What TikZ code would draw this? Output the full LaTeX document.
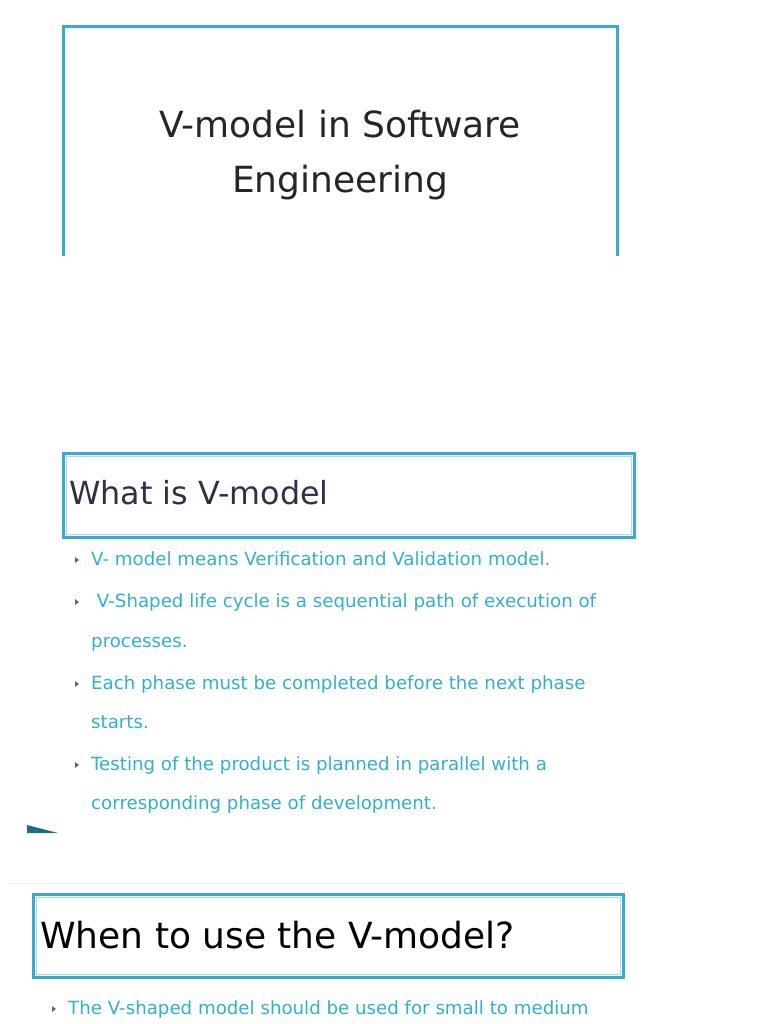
\documentclass[tikz,border=0pt]{standalone}
\usepackage{fontspec}
\setmainfont{DejaVu Sans}
\definecolor{bord}{HTML}{3AAAD0}
\definecolor{btxt}{HTML}{2FB0D2}
\definecolor{ttl}{HTML}{30304A}
\definecolor{tri}{HTML}{1A6E8A}
\begin{document}
\begin{tikzpicture}[x=1pt,y=-1pt,
  bul/.style={anchor=base west,text=btxt,font=\fontsize{18.2}{20}\selectfont,inner sep=0}]
\useasboundingbox (0,0) rectangle (768,1024);
% top box
\draw[bord,line width=3pt] (63,256) -- (63,27) -- (617,27) -- (617,256);
\node[text=black!85,font=\fontsize{36}{55}\selectfont,align=center] (t1) at (340,155) {V-model in Software\\Engineering};
% box 2
\draw[bord,line width=3pt] (63,453) rectangle (634,537);
\draw[bord!40,line width=0.6pt] (66,456) rectangle (631,534);
\node[anchor=base west,text=ttl,font=\fontsize{31.8}{36}\selectfont,inner sep=0] (t2) at (69,504) {What is V-model};
\foreach \y/\t in {565/{V- model means Verification and Validation model.},607/{\ V-Shaped life cycle is a sequential path of execution of},689/{Each phase must be completed before the next phase},770/{Testing of the product is planned in parallel with a}}{
  \node[bul] at (91,\y) {\t};
  \fill[black!60] (75,\y-8) -- (79,\y-5) -- (75,\y-2) -- cycle;
}
\node[bul] (c1) at (91,647) {processes.};
\node[bul] (c2) at (91,728) {starts.};
\node[bul] (c3) at (91,809) {corresponding phase of development.};
\fill[tri] (27,825) -- (27,833) -- (58,833) -- cycle;
\draw[black!6,line width=1pt] (8,883) -- (622,883);
% box 3
\draw[bord,line width=3pt] (33,894) rectangle (623,977);
\draw[bord!40,line width=0.6pt] (36,897) rectangle (620,974);
\node[anchor=base west,text=black,font=\fontsize{36}{40}\selectfont,inner sep=0] (t3) at (40,948) {When to use the V-model?};
\node[bul] (b5) at (68,1014) {The V-shaped model should be used for small to medium};
\fill[black!60] (52,1006) -- (56,1009) -- (52,1012) -- cycle;
\end{tikzpicture}
\end{document}
